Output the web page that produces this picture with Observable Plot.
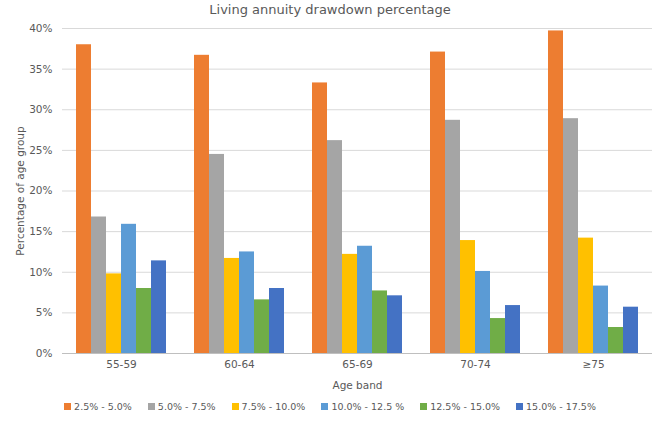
<!DOCTYPE html>
<html>
<head>
<meta charset="utf-8">
<script src="https://cdn.jsdelivr.net/npm/d3@7"></script>
<script src="https://cdn.jsdelivr.net/npm/@observablehq/plot@0.6"></script>
<style>
  body { margin: 0; background: #fff; font-family: "DejaVu Sans", sans-serif; color: #595959; }
  #title { width: 660px; height: 20px; line-height: 20px; text-align: center; font-size: 13px; color: #595959; }
  #legend { width: 660px; display: flex; justify-content: center; font-size: 9.5px; color: #595959; margin-top: 6px; }
  .item { display: flex; align-items: center; margin: 0 8px; }
  .sw { width: 7px; height: 7px; margin-right: 3px; }
</style>
</head>
<body>
<div id="title">Living annuity drawdown percentage</div>
<div id="chart"></div>
<div id="legend"></div>
<script>
const ages = ["55-59", "60-64", "65-69", "70-74", "≥75"];
const ranges = ["2.5% - 5.0%", "5.0% - 7.5%", "7.5% - 10.0%", "10.0% - 12.5 %", "12.5% - 15.0%", "15.0% - 17.5%"];
const colors = ["#ED7D31", "#A5A5A5", "#FFC000", "#5B9BD5", "#70AD47", "#4472C4"];
const yTicks = [0, 5, 10, 15, 20, 25, 30, 35, 40];

// values per drawdown range, in age-band order
const r2_5to5_0   = [38.0, 36.7, 33.3, 37.1, 39.7];
const r5_0to7_5   = [16.8, 24.5, 26.2, 28.7, 28.9];
const r7_5to10_0  = [9.8, 11.7, 12.2, 13.9, 14.2];
const r10_0to12_5 = [15.9, 12.5, 13.2, 10.1, 8.3];
const r12_5to15_0 = [8.0, 6.6, 7.7, 4.3, 3.2];
const r15_0to17_5 = [11.4, 8.0, 7.1, 5.9, 5.7];

const series = [r2_5to5_0, r5_0to7_5, r7_5to10_0, r10_0to12_5, r12_5to15_0, r15_0to17_5];
const data = [];
ages.forEach((age, i) => series.forEach((s, j) => data.push({age, range: ranges[j], value: s[i]})));

const chart = Plot.plot({
  width: 660,
  height: 375,
  marginTop: 8,
  marginBottom: 42,
  marginLeft: 60,
  marginRight: 6,
  style: {fontFamily: "DejaVu Sans, sans-serif", fontSize: "10.5px", color: "#595959", background: "#fff"},
  fx: {domain: ages, paddingInner: 0, paddingOuter: 0},
  x: {domain: ranges, paddingInner: 0, paddingOuter: 0.7, axis: null},
  y: {domain: [0, 40]},
  color: {domain: ranges, range: colors},
  marks: [
    Plot.gridY(yTicks, {stroke: "#D9D9D9", strokeOpacity: 1}),
    Plot.barY(data, {fx: "age", x: "range", y: "value", fill: "range"}),
    Plot.ruleY([0], {stroke: "#BFBFBF"}),
    Plot.axisY(yTicks, {tickSize: 0, tickPadding: 10, tickFormat: d => d + "%", label: "Percentage of age group", labelAnchor: "center", labelArrow: "none", labelOffset: 46}),
    Plot.axisFx({anchor: "bottom", tickSize: 0, tickPadding: 7, label: "Age band", labelAnchor: "center", labelOffset: 35})
  ]
});
document.getElementById("chart").appendChild(chart);

const legend = d3.select("#legend");
ranges.forEach((r, i) => {
  const it = legend.append("div").attr("class", "item");
  it.append("div").attr("class", "sw").style("background", colors[i]);
  it.append("span").text(r);
});
</script>
</body>
</html>
